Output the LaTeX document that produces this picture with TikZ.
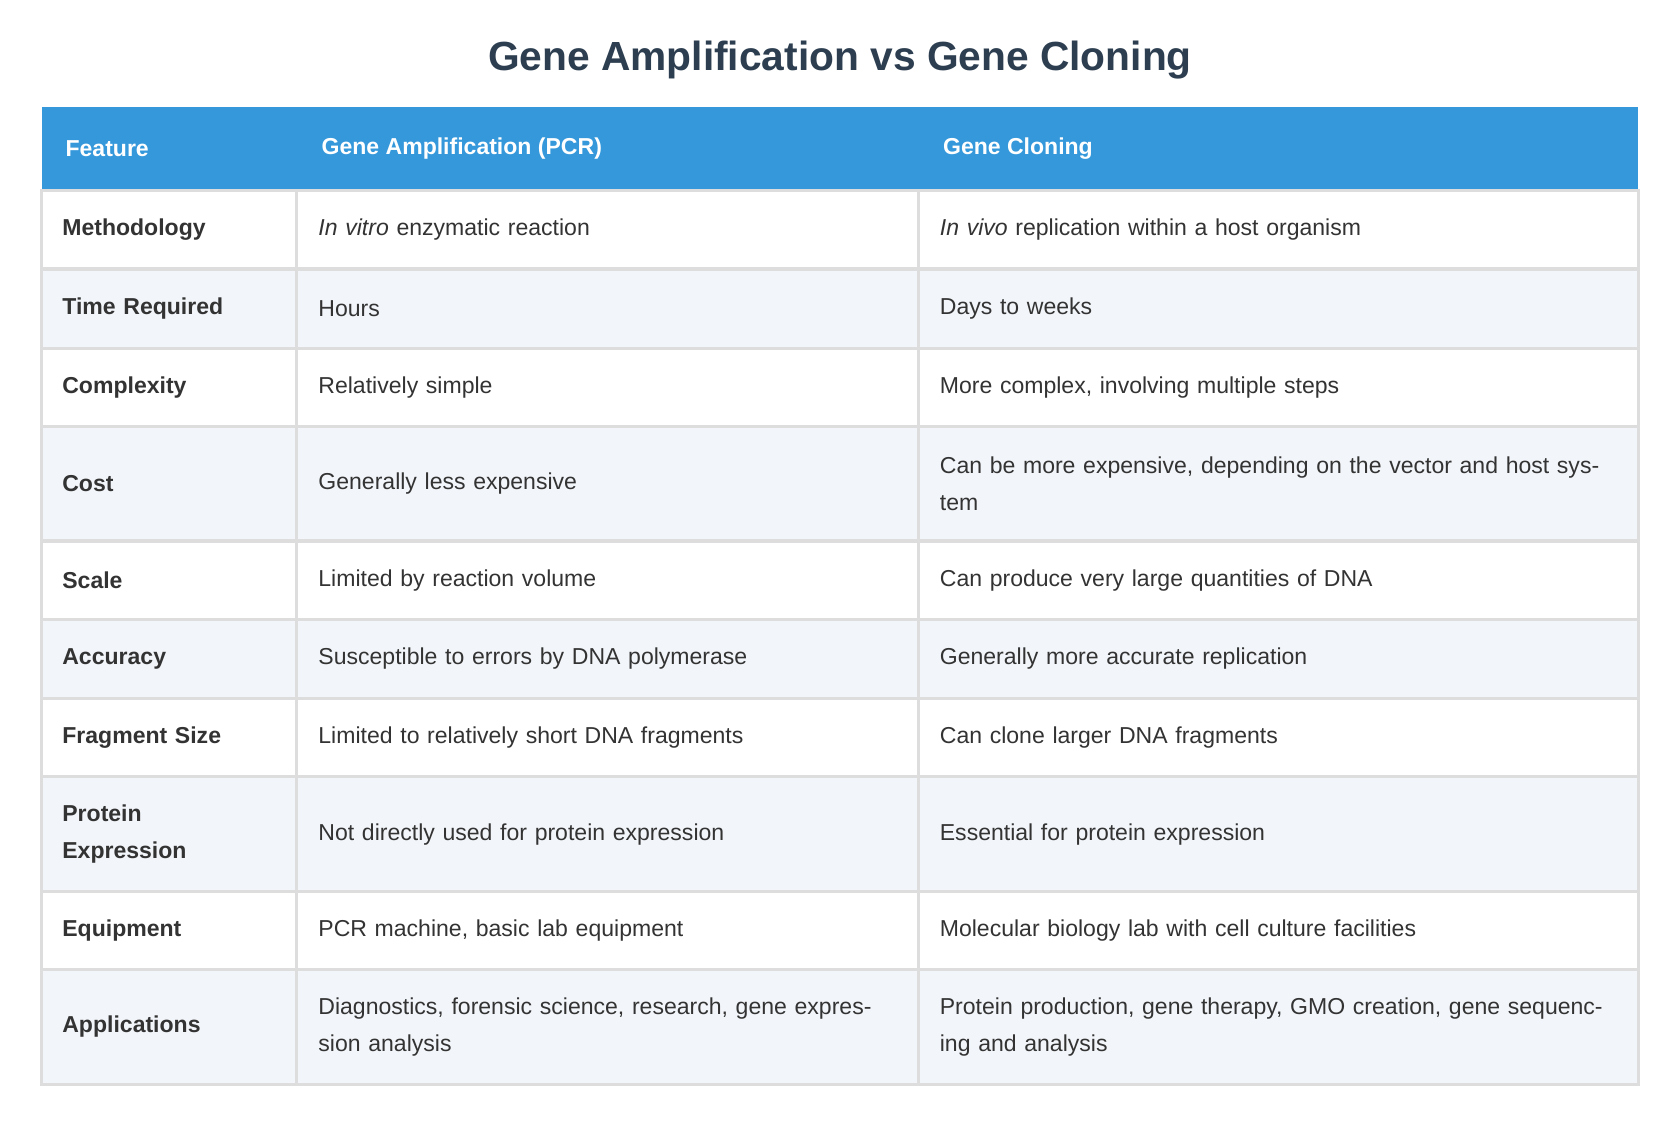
\documentclass[tikz,border=0pt]{standalone}
\usepackage{fontspec}
\setmainfont{Liberation Sans}
\definecolor{hdr}{HTML}{3498DB}
\definecolor{ttl}{HTML}{2C3E50}
\definecolor{alt}{HTML}{F2F5F9}
\definecolor{brd}{HTML}{DDDDDD}
\definecolor{txt}{HTML}{333333}
\begin{document}
\begin{tikzpicture}[x=1pt,y=-1pt,
  cell/.style={anchor=west,align=left,font=\fontsize{21.5}{34}\selectfont,text=txt,inner sep=0pt},
  c1/.style={cell,text width=200pt,font=\fontsize{21.5}{34}\selectfont\bfseries},
  c2/.style={cell,text width=545pt},
  c3/.style={cell,text width=635pt},
  hd/.style={anchor=west,font=\fontsize{21.5}{26}\selectfont\bfseries,text=white,inner sep=0pt}]
\useasboundingbox (0,0) rectangle (1568,1053);
\fill[white] (0,0) rectangle (1568,1053);
\node[font=\fontsize{38}{44}\selectfont\bfseries,text=ttl] (title) at (784,56) {Gene Amplification vs Gene Cloning};
\fill[hdr] (39,100) rectangle (1529,178);
\node[hd] (h1) at (61,139) {Feature};
\node[hd] (h2) at (300,139) {Gene Amplification (PCR)};
\node[hd] (h3) at (880,139) {Gene Cloning};
\def\row#1#2#3#4#5#6#7{%
  \fill[#3] (39,#1) rectangle (1529,#2);
  \draw[brd,line width=3pt] (39,#1) rectangle (1529,#2);
  \draw[brd,line width=3pt] (277,#1) -- (277,#2) (857,#1) -- (857,#2);
  \node[c1] (a#7) at (58,{(#1+#2)/2}) {#4};
  \node[c2] (b#7) at (297,{(#1+#2)/2}) {#5};
  \node[c3] (c#7) at (877,{(#1+#2)/2}) {#6};}
\row{178}{251}{white}{Methodology}{\textit{In vitro} enzymatic reaction}{\textit{In vivo} replication within a host organism}{1}
\row{251}{325}{alt}{Time Required}{Hours}{Days to weeks}{2}
\row{325}{398}{white}{Complexity}{Relatively simple}{More complex, involving multiple steps}{3}
\row{398}{505}{alt}{Cost}{Generally less expensive}{Can be more expensive, depending on the vector and host system}{4}
\row{505}{578}{white}{Scale}{Limited by reaction volume}{Can produce very large quantities of DNA}{5}
\row{578}{652}{alt}{Accuracy}{Susceptible to errors by DNA polymerase}{Generally more accurate replication}{6}
\row{652}{725}{white}{Fragment Size}{Limited to relatively short DNA fragments}{Can clone larger DNA fragments}{7}
\row{725}{832}{alt}{Protein\\Expression}{Not directly used for protein expression}{Essential for protein expression}{8}
\row{832}{905}{white}{Equipment}{PCR machine, basic lab equipment}{Molecular biology lab with cell culture facilities}{9}
\row{905}{1012}{alt}{Applications}{Diagnostics, forensic science, research, gene expression analysis}{Protein production, gene therapy, GMO creation, gene sequencing and analysis}{10}
\draw[brd,line width=1pt] (39,178) -- (39,1012);
\draw[brd,line width=1pt] (1529,178) -- (1529,1012);
\end{tikzpicture}
\end{document}
